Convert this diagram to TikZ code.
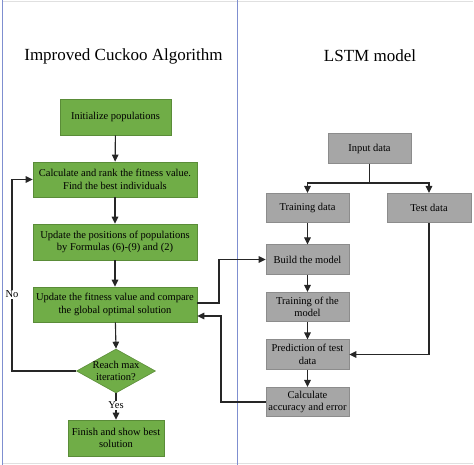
\documentclass[tikz,border=0pt]{standalone}
\usepackage{fontspec}
\setmainfont{Liberation Serif}
\usetikzlibrary{shapes.geometric,arrows.meta}
\definecolor{gfill}{HTML}{70AD47}
\definecolor{gdraw}{HTML}{5A8C38}
\definecolor{kfill}{HTML}{A6A6A6}
\definecolor{kdraw}{HTML}{8C8C8C}
\definecolor{frameblue}{HTML}{7F8FD0}
\definecolor{framegray}{HTML}{E0E0E0}
\begin{document}
\begin{tikzpicture}[x=1pt,y=-1pt,
  gbox/.style={draw=gdraw,fill=gfill,line width=0.6pt,minimum width=#1,align=center,inner sep=0pt,font=\fontsize{10.5}{12.5}\selectfont},
  kbox/.style={draw=kdraw,fill=kfill,line width=0.6pt,minimum width=83pt,minimum height=29.5pt,align=center,inner sep=0pt,font=\fontsize{10.5}{12.5}\selectfont},
  ttl/.style={font=\fontsize{17}{20}\selectfont},
  conn/.style={line width=1.1pt,draw=black!85},
  arr/.style={conn,-{Triangle[width=6.5pt,length=7pt]}},
  lbl/.style={fill=white,inner sep=1pt,font=\fontsize{10.5}{12}\selectfont}]
\useasboundingbox (0,0) rectangle (474,465);
% frame
\draw[framegray,line width=0.8pt] (2,1.2) -- (473,1.2);
\draw[framegray,line width=0.8pt] (2,463.5) -- (473,463.5);
\draw[frameblue,line width=1pt] (2,0) -- (2,465);
\draw[frameblue,line width=1pt] (237,0) -- (237,465);
% titles
\node[ttl] (t1) at (123.5,56) {Improved Cuckoo Algorithm};
\node[ttl] (t2) at (370,56) {LSTM model};
% left column
\node[gbox=111pt,minimum height=36pt] (g1) at (115.5,117) {Initialize populations};
\node[gbox=164pt,minimum height=35pt] (g2) at (115,179.5) {Calculate and rank the fitness value.\\Find the best individuals};
\node[gbox=164pt,minimum height=36pt] (g3) at (115,242) {Update the positions of populations\\by Formulas (6)-(9) and (2)};
\node[gbox=164pt,minimum height=35pt] (g4) at (115,304.5) {Update the fitness value and compare\\the global optimal solution};
\node[diamond,draw=gdraw,fill=gfill,line width=0.6pt,minimum width=79pt,minimum height=44pt,inner sep=0pt] (d) at (116,371) {};
\node[align=center,inner sep=0pt,font=\fontsize{10.5}{12.5}\selectfont] (dt) at (d) {Reach max\\iteration?};
\node[gbox=96pt,minimum height=36pt] (g5) at (116,438) {Finish and show best\\solution};
% right column
\node[kbox] (in) at (369.5,148.5) {Input data};
\node[kbox] (tr) at (307.5,208) {Training data};
\node[kbox,minimum width=84pt] (te) at (429,208) {Test data};
\node[kbox] (bm) at (307.5,259.5) {Build the model};
\node[kbox] (to) at (307.5,307) {Training of the\\model};
\node[kbox] (pr) at (307.5,354.5) {Prediction of test\\data};
\node[kbox] (ca) at (307.5,402) {Calculate\\accuracy and error};
% helper coordinates
\coordinate (split) at (369.5,183);
\coordinate (nox) at (12,371);
\coordinate (up1) at (219,303);
\coordinate (up2) at (221,402);
% left connectors
\draw[arr] (g1) -- (g2);
\draw[arr] (g2) -- (g3);
\draw[arr] (g3) -- (g4);
\draw[arr] (g4) -- (d.north);
\draw[arr] (d.south) -- (g5) node[lbl,pos=0.45] (yes) {Yes};
\draw[arr] (d.west) -- (nox) |- (g2.west) node[lbl,pos=0.2] (no) {No};
% right connectors
\draw[conn] (in) -- (split);
\draw[arr] (split) -| (tr);
\draw[arr] (split) -| (te);
\draw[arr] (tr) -- (bm);
\draw[arr] (bm) -- (to);
\draw[arr] (to) -- (pr);
\draw[arr] (pr) -- (ca);
\draw[arr] (te) |- (pr.east);
% cross connectors
\draw[arr] (g4.east |- up1) -- (up1) |- (bm.west);
\draw[arr] (ca.west) -- (up2) |- (g4.east |- 0,316);
\end{tikzpicture}
\end{document}
